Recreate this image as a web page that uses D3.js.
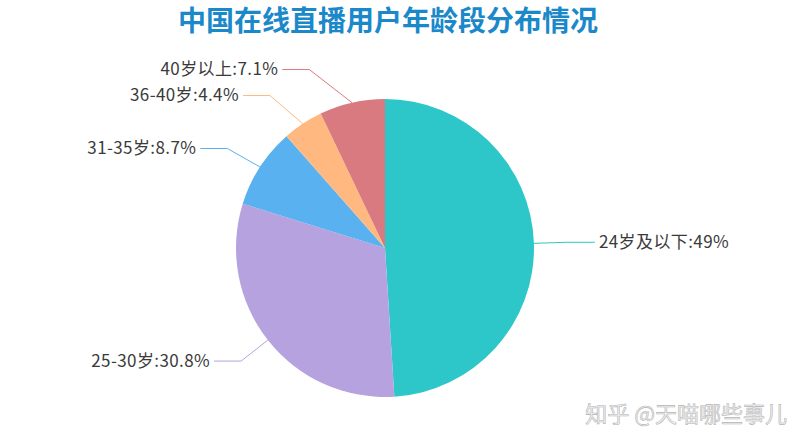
<!DOCTYPE html>
<html>
<head>
<meta charset="utf-8">
<script src="https://cdn.jsdelivr.net/npm/d3@7"></script>
<style>
  body { margin: 0; background: #fff; }
  svg { display: block; font-family: "Microsoft YaHei", "Noto Sans CJK SC", sans-serif; }
</style>
</head>
<body>
<svg id="chart" width="808" height="446"></svg>
<script>
// data
const categories = ['24岁及以下', '25-30岁', '31-35岁', '36-40岁', '40岁以上'];
const shares = [49, 30.8, 8.7, 4.4, 7.1];
const colors = ['#2ec7c9', '#b6a2de', '#5ab1ef', '#ffb980', '#d87a80'];
const title = '中国在线直播用户年龄段分布情况';
const watermark = '知乎 @天喵哪些事儿';

const svg = d3.select('#chart');
const cx = 385, cy = 248, r = 149;
const len1 = 34, len2 = 27, rB = 196;

// title
svg.append('text')
  .attr('x', 388).attr('y', 31)
  .attr('text-anchor', 'middle')
  .style('font-size', '28px')
  .style('font-weight', 'bold')
  .style('fill', '#1a88c9')
  .text(title);

const data = categories.map((c, i) => ({ name: c, value: shares[i], color: colors[i] }));

const pie = d3.pie().sort(null).value(d => d.value);
const arc = d3.arc().innerRadius(0).outerRadius(r);
const arcs = pie(data);

const g = svg.append('g').attr('transform', `translate(${cx},${cy})`);

g.selectAll('.slice').data(arcs)
  .join('path')
  .attr('class', 'slice')
  .attr('d', arc)
  .style('fill', d => d.data.color);

// label layout, echarts-like
const R = r + len1;
const items = arcs.map(d => {
  const a = (d.startAngle + d.endAngle) / 2;
  const sx = Math.sin(a), sy = -Math.cos(a);
  return {
    d, a,
    p0: [sx * r, sy * r],
    ex: sx * R, ey: sy * R,
    dir: sx >= 0 ? 1 : -1
  };
});

// push overlapping labels apart on the left side (top to bottom)
const left = items.filter(o => o.dir < 0).sort((a, b) => a.ey - b.ey);
for (let i = 1; i < left.length; i++) {
  if (left[i].ey - left[i - 1].ey < 26) left[i].ey = left[i - 1].ey + 26;
}
// upper-left labels sit on a squashed ellipse
left.filter(o => o.ey < 0).forEach(o => {
  const dy = Math.abs(o.ey);
  o.ex = -Math.sqrt(Math.max(0, 1 - dy * dy / (rB * rB))) * R;
});

items.forEach(o => {
  const hx = o.ex + o.dir * len2;
  g.append('polyline')
    .attr('points', [o.p0, [o.ex, o.ey], [hx, o.ey]].map(p => p.join(',')).join(' '))
    .style('fill', 'none')
    .style('stroke', o.d.data.color)
    .style('stroke-width', 1);
  g.append('text')
    .attr('x', hx + o.dir * 4)
    .attr('y', o.ey)
    .attr('dy', '0.35em')
    .attr('text-anchor', o.dir > 0 ? 'start' : 'end')
    .style('font-size', '17px')
    .style('letter-spacing', '0.4px')
    .style('fill', '#3a3a3a')
    .text(`${o.d.data.name}:${o.d.data.value}%`);
});

// watermark
svg.append('text')
  .attr('x', 787).attr('y', 422)
  .attr('text-anchor', 'end')
  .style('font-size', '22px')
  .style('fill', '#f2f2f2')
  .style('stroke', '#b5b5b5')
  .style('stroke-width', 0.6)
  .text(watermark);
</script>
</body>
</html>
